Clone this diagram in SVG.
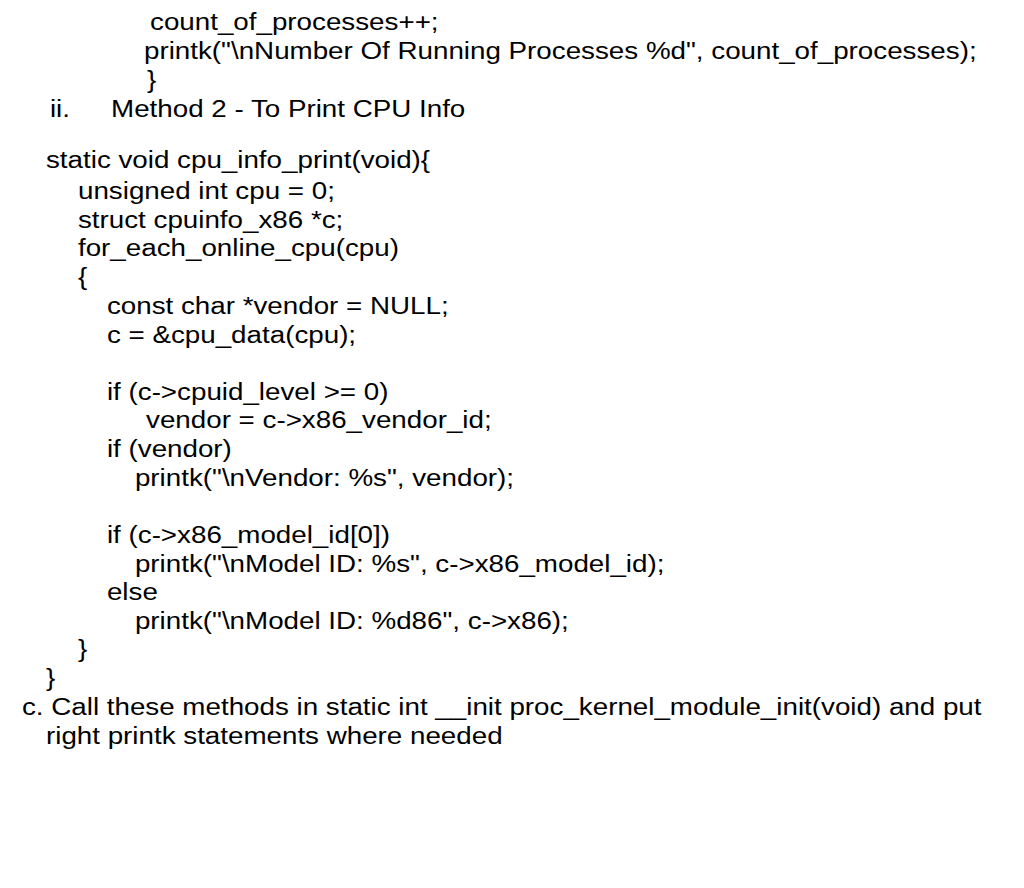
<svg xmlns="http://www.w3.org/2000/svg" width="1024" height="888" viewBox="0 0 1024 888">
<style>text{font-family:"Liberation Sans",Arial,sans-serif;font-size:23px;fill:#000;white-space:pre}</style>
<rect width="1024" height="888" fill="#fff"/>
<g transform="scale(1.207,1)">
<text x="124.3" y="30">count_of_processes++;</text>
<text x="119.3" y="59">printk("\nNumber Of Running Processes %d", count_of_processes);</text>
<text x="121.8" y="88">}</text>
<text x="41.4" y="117">ii.</text>
<text x="92" y="117">Method 2 - To Print CPU Info</text>
<text x="38.1" y="168">static void cpu_info_print(void){</text>
<text x="64.6" y="199">unsigned int cpu = 0;</text>
<text x="64.6" y="228">struct cpuinfo_x86 *c;</text>
<text x="64.6" y="256">for_each_online_cpu(cpu)</text>
<text x="64.6" y="285">{</text>
<text x="88.6" y="314">const char *vendor = NULL;</text>
<text x="88.6" y="343">c = &amp;cpu_data(cpu);</text>
<text x="88.6" y="400">if (c-&gt;cpuid_level &gt;= 0)</text>
<text x="121" y="428">vendor = c-&gt;x86_vendor_id;</text>
<text x="88.6" y="457">if (vendor)</text>
<text x="111.8" y="486">printk("\nVendor: %s", vendor);</text>
<text x="88.6" y="543">if (c-&gt;x86_model_id[0])</text>
<text x="111.8" y="572">printk("\nModel ID: %s", c-&gt;x86_model_id);</text>
<text x="88.6" y="600">else</text>
<text x="111.8" y="629">printk("\nModel ID: %d86", c-&gt;x86);</text>
<text x="64.6" y="657">}</text>
<text x="38.1" y="686">}</text>
<text x="18.2" y="715">c. Call these methods in static int __init proc_kernel_module_init(void) and put</text>
<text x="38.1" y="744">right printk statements where needed</text>
</g>
</svg>
